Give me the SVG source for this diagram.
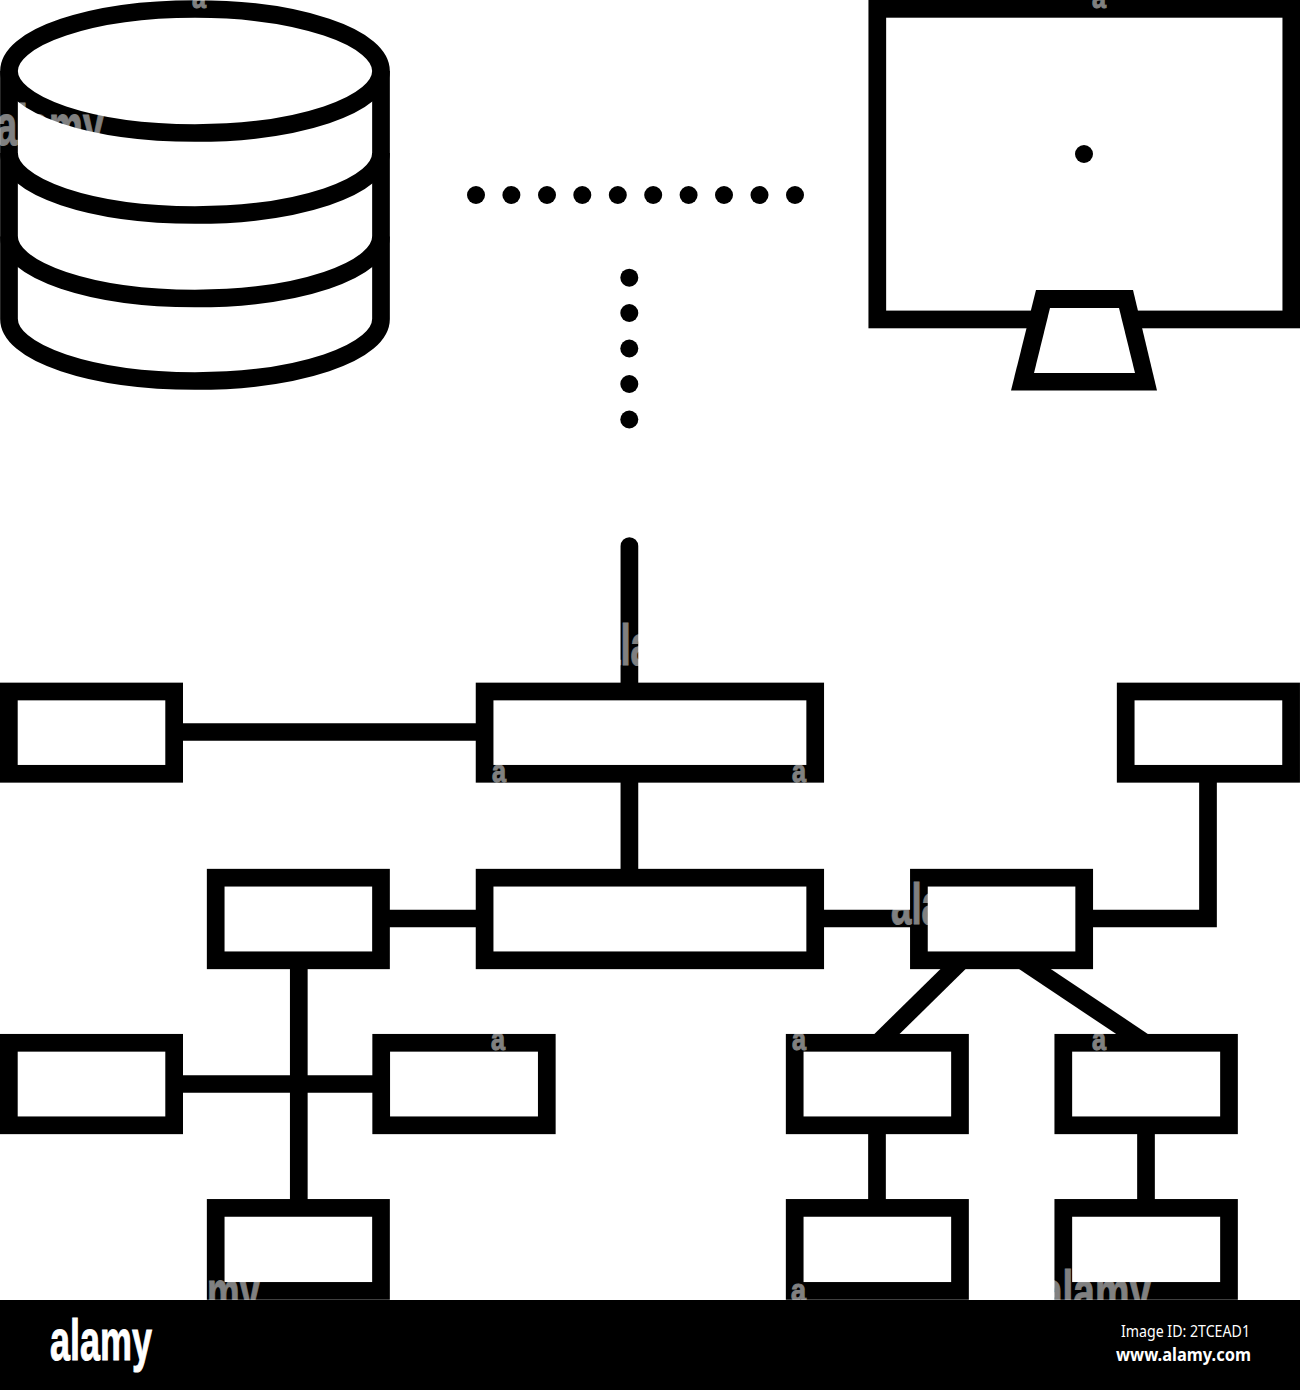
<svg xmlns="http://www.w3.org/2000/svg" width="1300" height="1390" viewBox="0 0 1300 1390">
<style>
.box{fill:#fff;stroke:#000;stroke-width:17.7}
.ln{fill:none;stroke:#000;stroke-width:17.7}
.dot{fill:#000}
.wm{font-family:"Liberation Sans",Arial,sans-serif;font-weight:700;fill:#fff;stroke:#fff;stroke-width:1;opacity:.5}
.wm-l{font-size:57px}
.wm-s{font-size:32px}
.ft{font-family:"Noto Sans","Open Sans",sans-serif;fill:#fff}
</style>
<rect width="1300" height="1390" fill="#fff"/>
<g id="connectors">
<path class="ln" d="M629.4 546V691" stroke-linecap="round"/>
<path class="ln" d="M178 732H481"/>
<path class="ln" d="M629.4 778V874"/>
<path class="ln" d="M385 918.5H481"/>
<path class="ln" d="M819 918.5H915"/>
<path class="ln" d="M1088 918.5H1208V778"/>
<path class="ln" d="M298.8 964V1204"/>
<path class="ln" d="M178 1084H378"/>
<path class="ln" d="M963 959.2L877 1043.8"/>
<path class="ln" d="M1020 959L1147 1044"/>
<path class="ln" d="M877 1129V1204"/>
<path class="ln" d="M1146 1129V1204"/>
<g id="dots-horizontal" class="dot">
<circle cx="476" cy="195" r="9"/><circle cx="511.4" cy="195" r="9"/><circle cx="547" cy="195" r="9"/><circle cx="582.3" cy="195" r="9"/><circle cx="617.8" cy="195" r="9"/><circle cx="653.2" cy="195" r="9"/><circle cx="688.6" cy="195" r="9"/><circle cx="724" cy="195" r="9"/><circle cx="759.5" cy="195" r="9"/><circle cx="795" cy="195" r="9"/>
</g>
<g id="dots-vertical" class="dot">
<circle cx="629.3" cy="277.7" r="9"/><circle cx="629.3" cy="313" r="9"/><circle cx="629.3" cy="348.5" r="9"/><circle cx="629.3" cy="384" r="9"/><circle cx="629.3" cy="419.5" r="9"/>
</g>
</g>
<g id="database">
<path class="ln" d="M9 71V319"/>
<path class="ln" d="M381 71V319"/>
<path class="ln" d="M9 153A186 62 0 0 0 381 153"/>
<path class="ln" d="M9 236.5A186 62 0 0 0 381 236.5"/>
<path class="ln" d="M9 319A186 62 0 0 0 381 319"/>
<ellipse class="box" cx="195" cy="71" rx="186" ry="62"/>
</g>
<g id="monitor">
<rect class="box" x="877.3" y="8.85" width="414" height="310.6"/>
<circle class="dot" cx="1084" cy="154" r="9"/>
<polygon points="1036,290 1133,290 1157,390.5 1011,390.5" fill="#000"/>
<polygon points="1050,308 1119,308 1135,373 1034,373" fill="#fff"/>
</g>
<g id="box-top-left"><rect class="box" x="8.85" y="691.5" width="165.3" height="82.3"/></g>
<g id="box-top-center"><rect class="box" x="484.6" y="691.5" width="330.6" height="82.3"/></g>
<g id="box-top-right"><rect class="box" x="1125.7" y="691.5" width="165.4" height="82.3"/></g>
<g id="box-mid-left"><rect class="box" x="215.7" y="877.7" width="165.3" height="82.6"/></g>
<g id="box-mid-center"><rect class="box" x="484.6" y="877.7" width="330.6" height="82.6"/></g>
<g id="box-mid-right"><rect class="box" x="918.9" y="877.7" width="165.3" height="82.6"/></g>
<g id="box-row-1"><rect class="box" x="8.85" y="1042.8" width="165.3" height="82.5"/></g>
<g id="box-row-2"><rect class="box" x="381.2" y="1042.8" width="165.6" height="82.5"/></g>
<g id="box-row-3"><rect class="box" x="794.7" y="1042.8" width="165.3" height="82.5"/></g>
<g id="box-row-4"><rect class="box" x="1063.3" y="1042.8" width="165.7" height="82.5"/></g>
<g id="box-bottom-1"><rect class="box" x="215.7" y="1207.9" width="165.3" height="83"/></g>
<g id="box-bottom-2"><rect class="box" x="794.7" y="1207.9" width="165.3" height="83"/></g>
<g id="box-bottom-3"><rect class="box" x="1063.3" y="1207.9" width="165.7" height="83"/></g>
<g id="watermark-fragments">
<text class="wm wm-l" x="-4" y="145" textLength="108" lengthAdjust="spacingAndGlyphs">alamy</text>
<text class="wm wm-l" x="600" y="665" textLength="104" lengthAdjust="spacingAndGlyphs">alamy</text>
<text class="wm wm-l" x="891" y="924" textLength="104" lengthAdjust="spacingAndGlyphs">alamy</text>
<text class="wm wm-l" x="156" y="1311" textLength="104" lengthAdjust="spacingAndGlyphs">alamy</text>
<text class="wm wm-l" x="1041" y="1311" textLength="110" lengthAdjust="spacingAndGlyphs">alamy</text>
<text class="wm wm-s" x="192" y="8" textLength="14" lengthAdjust="spacingAndGlyphs">a</text>
<text class="wm wm-s" x="1092" y="8" textLength="14" lengthAdjust="spacingAndGlyphs">a</text>
<text class="wm wm-s" x="492" y="782" textLength="14" lengthAdjust="spacingAndGlyphs">a</text>
<text class="wm wm-s" x="792" y="782" textLength="14" lengthAdjust="spacingAndGlyphs">a</text>
<text class="wm wm-s" x="491" y="1050" textLength="14" lengthAdjust="spacingAndGlyphs">a</text>
<text class="wm wm-s" x="792" y="1050" textLength="14" lengthAdjust="spacingAndGlyphs">a</text>
<text class="wm wm-s" x="1092" y="1050" textLength="14" lengthAdjust="spacingAndGlyphs">a</text>
<text class="wm wm-s" x="791" y="1301" textLength="15" lengthAdjust="spacingAndGlyphs">a</text>
</g>
<g id="footer">
<rect x="0" y="1300" width="1300" height="90" fill="#000"/>
<text x="50" y="1360" font-family="'Liberation Sans',Arial,sans-serif" font-weight="700" font-size="57" fill="#fff" stroke="#fff" stroke-width="1" textLength="102" lengthAdjust="spacingAndGlyphs">alamy</text>
<text class="ft" x="1121" y="1337" font-size="16.5" textLength="129" lengthAdjust="spacingAndGlyphs">Image ID: 2TCEAD1</text>
<text class="ft" x="1116" y="1361" font-size="18.5" font-weight="700" textLength="135" lengthAdjust="spacingAndGlyphs">www.alamy.com</text>
</g>
</svg>
